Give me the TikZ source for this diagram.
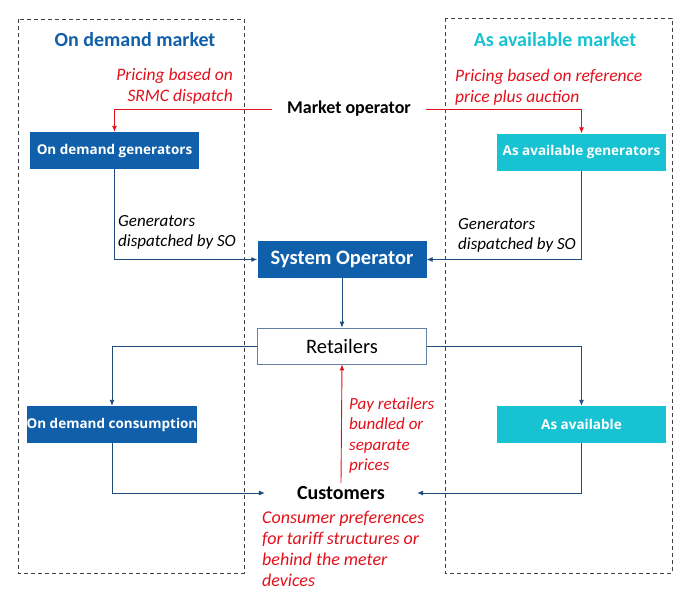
\documentclass[tikz,border=0pt]{standalone}
\usepackage{fontspec}
\setmainfont{Carlito}
\newfontfamily\boxfont{Open Sans}
\usetikzlibrary{arrows.meta}
\definecolor{odblue}{HTML}{0F5FAA}
\definecolor{avcyan}{HTML}{17C2D2}
\definecolor{linkblue}{HTML}{1F4A7C}
\definecolor{notered}{HTML}{E3101B}

\begin{document}
\begin{tikzpicture}[x=1pt,y=-1pt,
    market/.style={draw=black!75, line width=1pt, dash pattern=on 4pt off 3pt},
    genbox/.style={text=white, font=\boxfont\bfseries\fontsize{13.5}{17}\selectfont,
        minimum width=169pt, minimum height=37pt, inner sep=0pt},
    link/.style={draw=linkblue, line width=0.9pt, -{Latex[length=6pt,width=5pt]}},
    redlink/.style={draw=notered, line width=0.9pt, -{Latex[length=6pt,width=5pt]}},
    note/.style={text=notered, font=\itshape\fontsize{17.5}{21}\selectfont, inner sep=0pt},
    sonote/.style={text=black, font=\itshape\fontsize{17}{20}\selectfont, inner sep=0pt, align=left}]
    \useasboundingbox (0,0) rectangle (689,600);

    % market frames
    \draw[market] (18,19) rectangle (244,573);
    \draw[market] (445,18) rectangle (672,573);
    \node[text=odblue, font=\bfseries\fontsize{20}{24}\selectfont] (odtitle) at (135,40) {On demand market};
    \node[text=avcyan, font=\bfseries\fontsize{20}{24}\selectfont] (avtitle) at (555,40) {As available market};

    % nodes
    \node[font=\bfseries\fontsize{18}{21}\selectfont, inner xsep=15pt] (mo) at (349,109) {Market operator};
    \node[genbox, fill=odblue] (odgen) at (114.5,150.5) {On demand generators};
    \node[genbox, fill=avcyan] (avgen) at (581.5,152) {As available generators};
    \node[genbox, fill=odblue, font=\bfseries\fontsize{20.5}{24}\selectfont] (so) at (342,259.5) {System Operator};
    \node[draw=linkblue!70, line width=0.9pt, fill=white, font=\fontsize{20.5}{24}\selectfont,
        minimum width=169pt, minimum height=36pt, inner sep=0pt] (ret) at (342,346) {Retailers};
    \node[genbox, fill=odblue] (odcons) at (112,424.5) {On demand consumption};
    \node[genbox, fill=avcyan] (avcons) at (581.5,424.5) {As available};
    \node[font=\bfseries\fontsize{20}{23}\selectfont, inner xsep=32pt, inner ysep=3pt] (cust) at (341,493) {Customers};

    % texts
    \node[note, align=right, anchor=east] (odprice) at (233,86.5) {Pricing based on\\SRMC dispatch};
    \node[note, align=left, anchor=west] (avprice) at (455,87) {Pricing based on reference\\price plus auction};
    \node[sonote, anchor=west] (oddisp) at (118,232) {Generators\\dispatched by SO};
    \node[sonote, anchor=west] (avdisp) at (458,235) {Generators\\dispatched by SO};
    \node[note, align=left, anchor=west, font=\itshape\fontsize{17}{20.5}\selectfont] (pay) at (349,435.5) {Pay retailers\\bundled or\\separate\\prices};
    \node[note, align=left, anchor=west, font=\itshape\fontsize{18}{21}\selectfont] (pref) at (262,548.5) {Consumer preferences\\for tariff structures or\\behind the meter\\devices};

    % connectors
    \draw[redlink] (mo.west) -| (odgen.north);
    \draw[redlink] (mo.east) -| (avgen.north);
    \draw[link] (odgen.south) |- (so.west);
    \draw[link] (avgen.south) |- (so.east);
    \draw[link] (so.south) -- (ret.north);
    \draw[link] (ret.west) -| (odcons.north);
    \draw[link] (ret.east) -| (avcons.north);
    \draw[link] (odcons.south) |- (cust.west);
    \draw[link] (avcons.south) |- (cust.east);
    \draw[redlink] (cust.north) -- (ret.south);
\end{tikzpicture}
\end{document}
